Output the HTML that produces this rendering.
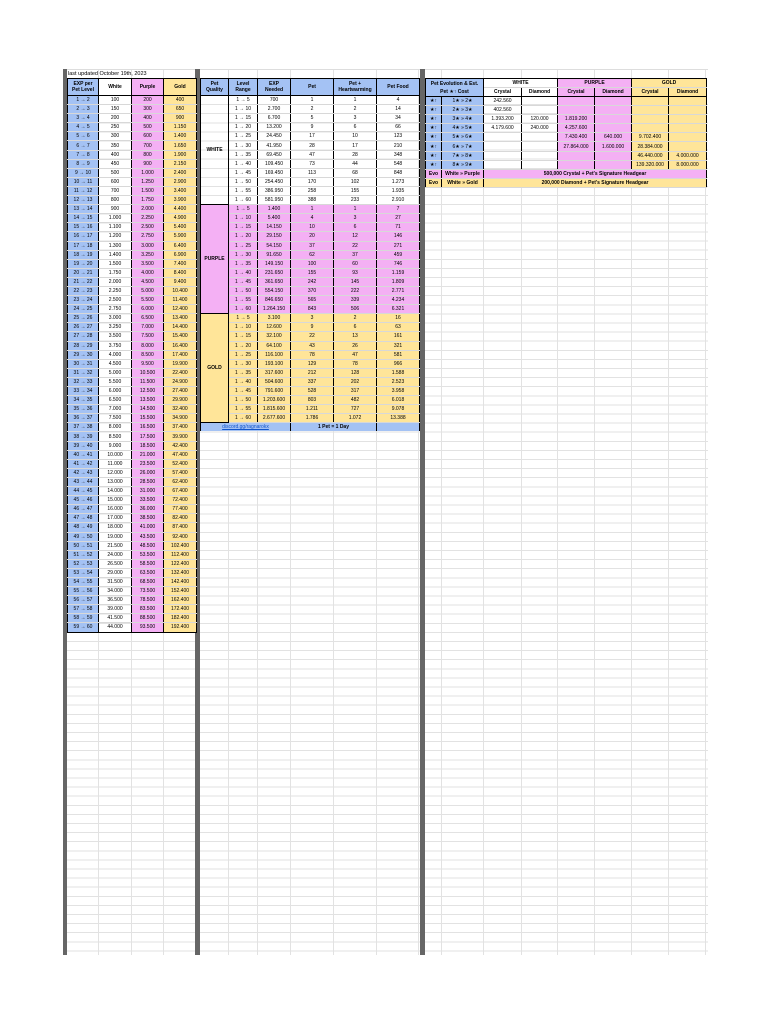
<!DOCTYPE html>
<html><head><meta charset="utf-8">
<style>
html,body{margin:0;padding:0;background:#fff;width:768px;height:1024px;overflow:hidden;position:relative;font-family:"Liberation Sans","DejaVu Sans",Arial,sans-serif;}
.grid{position:absolute;left:63px;top:96px;width:645px;height:859px;
 background-image:repeating-linear-gradient(to bottom,transparent 0,transparent 8.1px,#e2e2e2 8.1px,#e2e2e2 9.1px);}
.vl{position:absolute;top:69px;height:886px;width:1px;background:#e2e2e2;}
.bar{position:absolute;top:69px;height:886px;background:#666;}
table{position:absolute;border-collapse:collapse;table-layout:fixed;font-size:5px;}
td{padding:0;text-align:center;white-space:nowrap;overflow:hidden;height:8.1px;border-left:1px solid #000;border-right:1px solid #000;border-bottom:1px solid #d8d8d8;line-height:8px;}
tr.h td{height:16px;font-weight:bold;border:1px solid #000;line-height:6px;}
.b{background:#a4c2f4}.w{background:#fff}.p{background:#f4b0f4}.g{background:#ffe599}
.bold{font-weight:bold}
</style></head><body>
<div class="grid"></div>
<div class="vl" style="left:98px"></div><div class="vl" style="left:131px"></div><div class="vl" style="left:163px"></div>
<div class="vl" style="left:228px"></div><div class="vl" style="left:257px"></div><div class="vl" style="left:290px"></div><div class="vl" style="left:333px"></div><div class="vl" style="left:376px"></div><div class="vl" style="left:418px"></div>
<div class="vl" style="left:441px"></div><div class="vl" style="left:483px"></div><div class="vl" style="left:521px"></div><div class="vl" style="left:557px"></div><div class="vl" style="left:594px"></div><div class="vl" style="left:631px"></div><div class="vl" style="left:668px"></div><div class="vl" style="left:705px"></div>
<div style="position:absolute;left:63px;top:69px;width:645px;height:1px;background:#ddd"></div>
<div style="position:absolute;left:68px;top:70px;font-size:5.5px;line-height:8px">last updated October 19th, 2023</div>
<div class="bar" style="left:63px;width:4px"></div>
<div class="bar" style="left:195px;width:5px"></div>
<div class="bar" style="left:420px;width:5px"></div>

<table style="left:67px;top:78px;width:129px">
<colgroup><col style="width:31px"><col style="width:33px"><col style="width:32px"><col style="width:33px"></colgroup>
<tr class="h"><td class="b">EXP per<br>Pet Level</td><td class="w">White</td><td class="p">Purple</td><td class="g">Gold</td></tr>
<tr><td class="b">1 → 2</td><td>100</td><td class="p">200</td><td class="g">400</td></tr>
<tr><td class="b">2 → 3</td><td>150</td><td class="p">300</td><td class="g">650</td></tr>
<tr><td class="b">3 → 4</td><td>200</td><td class="p">400</td><td class="g">900</td></tr>
<tr><td class="b">4 → 5</td><td>250</td><td class="p">500</td><td class="g">1.150</td></tr>
<tr><td class="b">5 → 6</td><td>300</td><td class="p">600</td><td class="g">1.400</td></tr>
<tr><td class="b">6 → 7</td><td>350</td><td class="p">700</td><td class="g">1.650</td></tr>
<tr><td class="b">7 → 8</td><td>400</td><td class="p">800</td><td class="g">1.900</td></tr>
<tr><td class="b">8 → 9</td><td>450</td><td class="p">900</td><td class="g">2.150</td></tr>
<tr><td class="b">9 → 10</td><td>500</td><td class="p">1.000</td><td class="g">2.400</td></tr>
<tr><td class="b">10 → 11</td><td>600</td><td class="p">1.250</td><td class="g">2.900</td></tr>
<tr><td class="b">11 → 12</td><td>700</td><td class="p">1.500</td><td class="g">3.400</td></tr>
<tr><td class="b">12 → 13</td><td>800</td><td class="p">1.750</td><td class="g">3.900</td></tr>
<tr><td class="b">13 → 14</td><td>900</td><td class="p">2.000</td><td class="g">4.400</td></tr>
<tr><td class="b">14 → 15</td><td>1.000</td><td class="p">2.250</td><td class="g">4.900</td></tr>
<tr><td class="b">15 → 16</td><td>1.100</td><td class="p">2.500</td><td class="g">5.400</td></tr>
<tr><td class="b">16 → 17</td><td>1.200</td><td class="p">2.750</td><td class="g">5.900</td></tr>
<tr><td class="b">17 → 18</td><td>1.300</td><td class="p">3.000</td><td class="g">6.400</td></tr>
<tr><td class="b">18 → 19</td><td>1.400</td><td class="p">3.250</td><td class="g">6.900</td></tr>
<tr><td class="b">19 → 20</td><td>1.500</td><td class="p">3.500</td><td class="g">7.400</td></tr>
<tr><td class="b">20 → 21</td><td>1.750</td><td class="p">4.000</td><td class="g">8.400</td></tr>
<tr><td class="b">21 → 22</td><td>2.000</td><td class="p">4.500</td><td class="g">9.400</td></tr>
<tr><td class="b">22 → 23</td><td>2.250</td><td class="p">5.000</td><td class="g">10.400</td></tr>
<tr><td class="b">23 → 24</td><td>2.500</td><td class="p">5.500</td><td class="g">11.400</td></tr>
<tr><td class="b">24 → 25</td><td>2.750</td><td class="p">6.000</td><td class="g">12.400</td></tr>
<tr><td class="b">25 → 26</td><td>3.000</td><td class="p">6.500</td><td class="g">13.400</td></tr>
<tr><td class="b">26 → 27</td><td>3.250</td><td class="p">7.000</td><td class="g">14.400</td></tr>
<tr><td class="b">27 → 28</td><td>3.500</td><td class="p">7.500</td><td class="g">15.400</td></tr>
<tr><td class="b">28 → 29</td><td>3.750</td><td class="p">8.000</td><td class="g">16.400</td></tr>
<tr><td class="b">29 → 30</td><td>4.000</td><td class="p">8.500</td><td class="g">17.400</td></tr>
<tr><td class="b">30 → 31</td><td>4.500</td><td class="p">9.500</td><td class="g">19.900</td></tr>
<tr><td class="b">31 → 32</td><td>5.000</td><td class="p">10.500</td><td class="g">22.400</td></tr>
<tr><td class="b">32 → 33</td><td>5.500</td><td class="p">11.500</td><td class="g">24.900</td></tr>
<tr><td class="b">33 → 34</td><td>6.000</td><td class="p">12.500</td><td class="g">27.400</td></tr>
<tr><td class="b">34 → 35</td><td>6.500</td><td class="p">13.500</td><td class="g">29.900</td></tr>
<tr><td class="b">35 → 36</td><td>7.000</td><td class="p">14.500</td><td class="g">32.400</td></tr>
<tr><td class="b">36 → 37</td><td>7.500</td><td class="p">15.500</td><td class="g">34.900</td></tr>
<tr><td class="b">37 → 38</td><td>8.000</td><td class="p">16.500</td><td class="g">37.400</td></tr>
<tr><td class="b">38 → 39</td><td>8.500</td><td class="p">17.500</td><td class="g">39.900</td></tr>
<tr><td class="b">39 → 40</td><td>9.000</td><td class="p">18.500</td><td class="g">42.400</td></tr>
<tr><td class="b">40 → 41</td><td>10.000</td><td class="p">21.000</td><td class="g">47.400</td></tr>
<tr><td class="b">41 → 42</td><td>11.000</td><td class="p">23.500</td><td class="g">52.400</td></tr>
<tr><td class="b">42 → 43</td><td>12.000</td><td class="p">26.000</td><td class="g">57.400</td></tr>
<tr><td class="b">43 → 44</td><td>13.000</td><td class="p">28.500</td><td class="g">62.400</td></tr>
<tr><td class="b">44 → 45</td><td>14.000</td><td class="p">31.000</td><td class="g">67.400</td></tr>
<tr><td class="b">45 → 46</td><td>15.000</td><td class="p">33.500</td><td class="g">72.400</td></tr>
<tr><td class="b">46 → 47</td><td>16.000</td><td class="p">36.000</td><td class="g">77.400</td></tr>
<tr><td class="b">47 → 48</td><td>17.000</td><td class="p">38.500</td><td class="g">82.400</td></tr>
<tr><td class="b">48 → 49</td><td>18.000</td><td class="p">41.000</td><td class="g">87.400</td></tr>
<tr><td class="b">49 → 50</td><td>19.000</td><td class="p">43.500</td><td class="g">92.400</td></tr>
<tr><td class="b">50 → 51</td><td>21.500</td><td class="p">48.500</td><td class="g">102.400</td></tr>
<tr><td class="b">51 → 52</td><td>24.000</td><td class="p">53.500</td><td class="g">112.400</td></tr>
<tr><td class="b">52 → 53</td><td>26.500</td><td class="p">58.500</td><td class="g">122.400</td></tr>
<tr><td class="b">53 → 54</td><td>29.000</td><td class="p">63.500</td><td class="g">132.400</td></tr>
<tr><td class="b">54 → 55</td><td>31.500</td><td class="p">68.500</td><td class="g">142.400</td></tr>
<tr><td class="b">55 → 56</td><td>34.000</td><td class="p">73.500</td><td class="g">152.400</td></tr>
<tr><td class="b">56 → 57</td><td>36.500</td><td class="p">78.500</td><td class="g">162.400</td></tr>
<tr><td class="b">57 → 58</td><td>39.000</td><td class="p">83.500</td><td class="g">172.400</td></tr>
<tr><td class="b">58 → 59</td><td>41.500</td><td class="p">88.500</td><td class="g">182.400</td></tr>
<tr><td class="b" style="border-bottom:1px solid #000">59 → 60</td><td style="border-bottom:1px solid #000">44.000</td><td class="p" style="border-bottom:1px solid #000">93.500</td><td class="g" style="border-bottom:1px solid #000">192.400</td></tr>
</table>

<table style="left:200px;top:78px;width:219px">
<colgroup><col style="width:28px"><col style="width:29px"><col style="width:33px"><col style="width:43px"><col style="width:43px"><col style="width:43px"></colgroup>
<tr class="h b"><td>Pet<br>Quality</td><td>Level<br>Range</td><td>EXP<br>Needed</td><td>Pet</td><td>Pet +<br>Heartwarming</td><td>Pet Food</td></tr>
<tr><td rowspan="12" class="bold" style="border-bottom:1px solid #000">WHITE</td><td>1 → 5</td><td>700</td><td>1</td><td>1</td><td>4</td></tr>
<tr><td>1 → 10</td><td>2.700</td><td>2</td><td>2</td><td>14</td></tr>
<tr><td>1 → 15</td><td>6.700</td><td>5</td><td>3</td><td>34</td></tr>
<tr><td>1 → 20</td><td>13.200</td><td>9</td><td>6</td><td>66</td></tr>
<tr><td>1 → 25</td><td>24.450</td><td>17</td><td>10</td><td>123</td></tr>
<tr><td>1 → 30</td><td>41.950</td><td>28</td><td>17</td><td>210</td></tr>
<tr><td>1 → 35</td><td>69.450</td><td>47</td><td>28</td><td>348</td></tr>
<tr><td>1 → 40</td><td>109.450</td><td>73</td><td>44</td><td>548</td></tr>
<tr><td>1 → 45</td><td>169.450</td><td>113</td><td>68</td><td>848</td></tr>
<tr><td>1 → 50</td><td>254.450</td><td>170</td><td>102</td><td>1.273</td></tr>
<tr><td>1 → 55</td><td>386.950</td><td>258</td><td>155</td><td>1.935</td></tr>
<tr style="border-bottom:1px solid #000"><td>1 → 60</td><td>581.950</td><td>388</td><td>233</td><td>2.910</td></tr>
<tr class="p"><td rowspan="12" class="bold" style="border-bottom:1px solid #000">PURPLE</td><td>1 → 5</td><td>1.400</td><td>1</td><td>1</td><td>7</td></tr>
<tr class="p"><td>1 → 10</td><td>5.400</td><td>4</td><td>3</td><td>27</td></tr>
<tr class="p"><td>1 → 15</td><td>14.150</td><td>10</td><td>6</td><td>71</td></tr>
<tr class="p"><td>1 → 20</td><td>29.150</td><td>20</td><td>12</td><td>146</td></tr>
<tr class="p"><td>1 → 25</td><td>54.150</td><td>37</td><td>22</td><td>271</td></tr>
<tr class="p"><td>1 → 30</td><td>91.650</td><td>62</td><td>37</td><td>459</td></tr>
<tr class="p"><td>1 → 35</td><td>149.150</td><td>100</td><td>60</td><td>746</td></tr>
<tr class="p"><td>1 → 40</td><td>231.650</td><td>155</td><td>93</td><td>1.159</td></tr>
<tr class="p"><td>1 → 45</td><td>361.650</td><td>242</td><td>145</td><td>1.809</td></tr>
<tr class="p"><td>1 → 50</td><td>554.150</td><td>370</td><td>222</td><td>2.771</td></tr>
<tr class="p"><td>1 → 55</td><td>846.650</td><td>565</td><td>339</td><td>4.234</td></tr>
<tr class="p" style="border-bottom:1px solid #000"><td>1 → 60</td><td>1.264.150</td><td>843</td><td>506</td><td>6.321</td></tr>
<tr class="g"><td rowspan="12" class="bold" style="border-bottom:1px solid #000">GOLD</td><td>1 → 5</td><td>3.100</td><td>3</td><td>2</td><td>16</td></tr>
<tr class="g"><td>1 → 10</td><td>12.600</td><td>9</td><td>6</td><td>63</td></tr>
<tr class="g"><td>1 → 15</td><td>32.100</td><td>22</td><td>13</td><td>161</td></tr>
<tr class="g"><td>1 → 20</td><td>64.100</td><td>43</td><td>26</td><td>321</td></tr>
<tr class="g"><td>1 → 25</td><td>116.100</td><td>78</td><td>47</td><td>581</td></tr>
<tr class="g"><td>1 → 30</td><td>193.100</td><td>129</td><td>78</td><td>966</td></tr>
<tr class="g"><td>1 → 35</td><td>317.600</td><td>212</td><td>128</td><td>1.588</td></tr>
<tr class="g"><td>1 → 40</td><td>504.600</td><td>337</td><td>202</td><td>2.523</td></tr>
<tr class="g"><td>1 → 45</td><td>791.600</td><td>528</td><td>317</td><td>3.958</td></tr>
<tr class="g"><td>1 → 50</td><td>1.203.600</td><td>803</td><td>482</td><td>6.018</td></tr>
<tr class="g"><td>1 → 55</td><td>1.815.600</td><td>1.211</td><td>727</td><td>9.078</td></tr>
<tr class="g" style="border-bottom:1px solid #000"><td>1 → 60</td><td>2.677.600</td><td>1.786</td><td>1.072</td><td>13.388</td></tr>
<tr class="b"><td colspan="3" style="color:#1155cc;text-decoration:underline;border-bottom:none">discord.gg/ragnarokx</td><td colspan="2" class="bold" style="border-bottom:none">1 Pet = 1 Day</td><td style="border-bottom:none"></td></tr>
</table>

<table style="left:425px;top:78px;width:281px">
<colgroup><col style="width:16px"><col style="width:42px"><col style="width:38px"><col style="width:36px"><col style="width:37px"><col style="width:37px"><col style="width:37px"><col style="width:38px"></colgroup>
<tr style="font-weight:bold"><td colspan="2" rowspan="2" class="b" style="border:1px solid #000;line-height:8px">Pet Evolution &amp; Est.<br>Pet ★↑ Cost</td><td colspan="2" class="w" style="border-top:1px solid #000;height:7.5px;line-height:8px">WHITE</td><td colspan="2" class="p" style="border-top:1px solid #000;height:7.5px;line-height:8px">PURPLE</td><td colspan="2" class="g" style="border-top:1px solid #000;height:7.5px;line-height:8px">GOLD</td></tr>
<tr style="font-weight:bold;border-bottom:1px solid #000"><td class="w" style="height:7.5px;line-height:8px;border-bottom:1px solid #000">Crystal</td><td class="w" style="height:7.5px;line-height:8px;border-bottom:1px solid #000">Diamond</td><td class="p" style="height:7.5px;line-height:8px;border-bottom:1px solid #000">Crystal</td><td class="p" style="height:7.5px;line-height:8px;border-bottom:1px solid #000">Diamond</td><td class="g" style="height:7.5px;line-height:8px;border-bottom:1px solid #000">Crystal</td><td class="g" style="height:7.5px;line-height:8px;border-bottom:1px solid #000">Diamond</td></tr>
<tr><td class="b">★↑</td><td class="b">1★ » 2★</td><td>242.560</td><td></td><td class="p"></td><td class="p"></td><td class="g"></td><td class="g"></td></tr>
<tr><td class="b">★↑</td><td class="b">2★ » 3★</td><td>402.560</td><td></td><td class="p"></td><td class="p"></td><td class="g"></td><td class="g"></td></tr>
<tr><td class="b">★↑</td><td class="b">3★ » 4★</td><td>1.393.200</td><td>120.000</td><td class="p">1.819.200</td><td class="p"></td><td class="g"></td><td class="g"></td></tr>
<tr><td class="b">★↑</td><td class="b">4★ » 5★</td><td>4.179.600</td><td>240.000</td><td class="p">4.257.600</td><td class="p"></td><td class="g"></td><td class="g"></td></tr>
<tr><td class="b">★↑</td><td class="b">5★ » 6★</td><td></td><td></td><td class="p">7.430.400</td><td class="p">640.000</td><td class="g">9.702.400</td><td class="g"></td></tr>
<tr><td class="b">★↑</td><td class="b">6★ » 7★</td><td></td><td></td><td class="p">27.864.000</td><td class="p">1.600.000</td><td class="g">28.384.000</td><td class="g"></td></tr>
<tr><td class="b">★↑</td><td class="b">7★ » 8★</td><td></td><td></td><td class="p"></td><td class="p"></td><td class="g">46.440.000</td><td class="g">4.000.000</td></tr>
<tr style="border-bottom:1px solid #000"><td class="b">★↑</td><td class="b">8★ » 9★</td><td></td><td></td><td class="p"></td><td class="p"></td><td class="g">139.320.000</td><td class="g">8.000.000</td></tr>
<tr class="p bold" style="border-bottom:1px solid #000"><td>Evo</td><td>White » Purple</td><td colspan="6">500,000 Crystal + Pet's Signature Headgear</td></tr>
<tr class="g bold" style="border-bottom:1px solid #000"><td>Evo</td><td>White » Gold</td><td colspan="6">200,000 Diamond + Pet's Signature Headgear</td></tr>
</table>
</body></html>
